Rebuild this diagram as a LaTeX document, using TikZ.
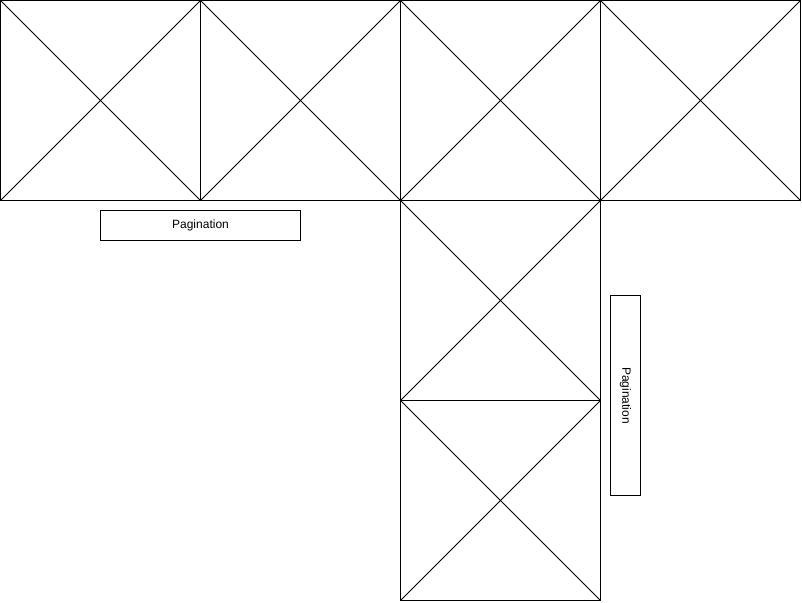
\documentclass[tikz,border=0pt]{standalone}
\usepackage{fontspec}
\setmainfont{Liberation Sans}
\begin{document}
\begin{tikzpicture}[x=1pt,y=-1pt,
  ph/.style={draw=black,line width=0.75pt,minimum width=200pt,minimum height=200pt,inner sep=0pt,outer sep=0pt,anchor=north west,
    path picture={\draw[line width=0.75pt] (path picture bounding box.north west) -- (path picture bounding box.south east)
      (path picture bounding box.north east) -- (path picture bounding box.south west);}},
  pag/.style={draw=black,line width=0.75pt,minimum width=200pt,minimum height=30pt,inner sep=0pt,font=\fontsize{12pt}{14pt}\selectfont}]
\useasboundingbox (0,0) rectangle (802,602);
\node[ph] (a) at (0.5,0.5) {};
\node[ph] (b) at (200.5,0.5) {};
\node[ph] (c) at (400.5,0.5) {};
\node[ph] (d) at (600.5,0.5) {};
\node[ph] (e) at (400.5,200.5) {};
\node[ph] (f) at (400.5,400.5) {};
\node[pag] (p1) at (200.5,225.5) {Pagination};
\node[pag,rotate=-90] (p2) at (625.5,395.5) {Pagination};
\end{tikzpicture}
\end{document}
